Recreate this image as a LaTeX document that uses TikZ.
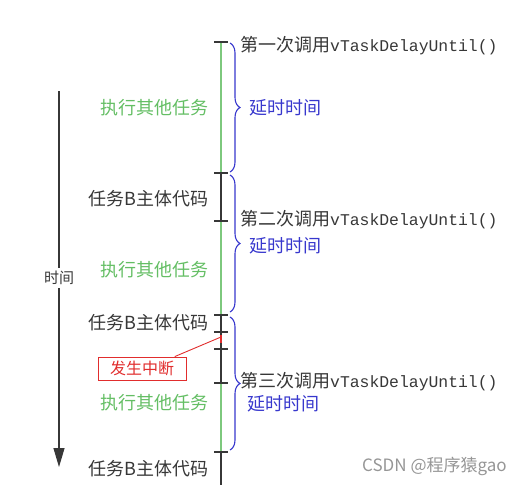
\documentclass[tikz,border=0pt]{standalone}
\usepackage{fontspec}
\newfontfamily\cjk{Noto Sans CJK SC}
\setmonofont{Liberation Mono}
\usetikzlibrary{arrows.meta,decorations.pathreplacing}
\definecolor{tgreen}{RGB}{100,190,100}
\definecolor{tline}{RGB}{125,200,125}
\definecolor{tblue}{RGB}{55,55,205}
\definecolor{tgray}{RGB}{55,55,55}
\definecolor{tred}{RGB}{225,45,45}
\definecolor{wm}{RGB}{150,150,150}
\tikzset{
  txt/.style={inner sep=0pt, font=\cjk\fontsize{18}{20}\selectfont},
  calltxt/.style={txt, anchor=west, text=tgray},
  delaytxt/.style={txt, anchor=west, text=tblue},
  othertxt/.style={txt, anchor=east, text=tgreen},
  bcodetxt/.style={txt, anchor=east, text=tgray},
  greenseg/.style={tline, line width=1.4pt},
  blackseg/.style={tgray, line width=1.4pt},
  tickmark/.style={tgray, line width=1.3pt},
  bracestyle/.style={tblue, line width=1.1pt, decorate, decoration={brace, amplitude=10pt}},
}
\newcommand{\mono}[1]{{\ttfamily\fontsize{16.4}{20}\selectfont #1}}
\begin{document}
\begin{tikzpicture}[x=1pt,y=-1pt]
\useasboundingbox (0,0) rectangle (525,485);
% main time line points
\coordinate (p0) at (221,42);
\coordinate (p1) at (221,173);
\coordinate (p2) at (221,221);
\coordinate (p3) at (221,315);
\coordinate (p4) at (221,332);
\coordinate (p5) at (221,349);
\coordinate (p6) at (221,383);
\coordinate (p7) at (221,452);
\coordinate (p8) at (221,485);
\draw[greenseg] (p0) -- (p1);
\draw[blackseg] (p1) -- (p2);
\draw[greenseg] (p2) -- (p3);
\draw[blackseg] (p3) -- (p6);
\draw[greenseg] (p6) -- (p7);
\draw[blackseg] (p7) -- (p8);
\foreach \p in {p0,p1,p2,p3,p4,p5,p6,p7}
  \draw[tickmark] ([xshift=-7pt]\p) -- ([xshift=7pt]\p);
% braces
\coordinate (b1a) at (230,43);  \coordinate (b1b) at (230,172);
\coordinate (b2a) at (230,175); \coordinate (b2b) at (230,312);
\coordinate (b3a) at (230,317); \coordinate (b3b) at (230,450);
\draw[bracestyle] (b1a) -- (b1b);
\draw[bracestyle] (b2a) -- (b2b);
\draw[bracestyle] (b3a) -- (b3b);
% right labels
\node[calltxt] (call1) at (240,46) {第一次调用\mono{vTaskDelayUntil()}};
\node[delaytxt] (delay1) at (249,108) {延时时间};
\node[calltxt] (call2) at (240,220) {第二次调用\mono{vTaskDelayUntil()}};
\node[delaytxt] (delay2) at (249,246) {延时时间};
\node[calltxt] (call3) at (240,382) {第三次调用\mono{vTaskDelayUntil()}};
\node[delaytxt] (delay3) at (247,404) {延时时间};
% left labels
\node[othertxt] (other1) at (209,108) {执行其他任务};
\node[bcodetxt] (bcode1) at (209,199) {任务B主体代码};
\node[othertxt] (other2) at (209,270) {执行其他任务};
\node[bcodetxt] (bcode2) at (209,323) {任务B主体代码};
\node[othertxt] (other3) at (209,403) {执行其他任务};
\node[bcodetxt] (bcode3) at (209,469) {任务B主体代码};
% interrupt
\node[draw=tred, line width=0.8pt, text=tred, inner sep=0pt, minimum width=88pt, minimum height=23pt,
      font=\cjk\fontsize{16}{18}\selectfont] (int) at (142,368.5) {发生中断};
\coordinate (hit) at (221,337);
\draw[tred, line width=0.9pt] (int.20) -- (hit);
\draw[tred, line width=1.4pt] (221,335) -- (221,343);
% time arrow
\coordinate (tstart) at (59,91);
\coordinate (tend) at (59,467);
\node[inner sep=3pt, text=tgray, font=\cjk\fontsize{15}{17}\selectfont] (time) at (59,278) {时间};
\draw[tgray, line width=1.2pt] (tstart) -- (time.north);
\draw[tgray, line width=1.2pt, -{Triangle[width=11pt,length=19pt]}] (time.south) -- (tend);
% watermark
\node[anchor=west, inner sep=0pt, text=wm, font=\cjk\fontsize{17}{19}\selectfont] (wmark) at (362,466) {CSDN @程序猿gao};
\end{tikzpicture}
\end{document}
